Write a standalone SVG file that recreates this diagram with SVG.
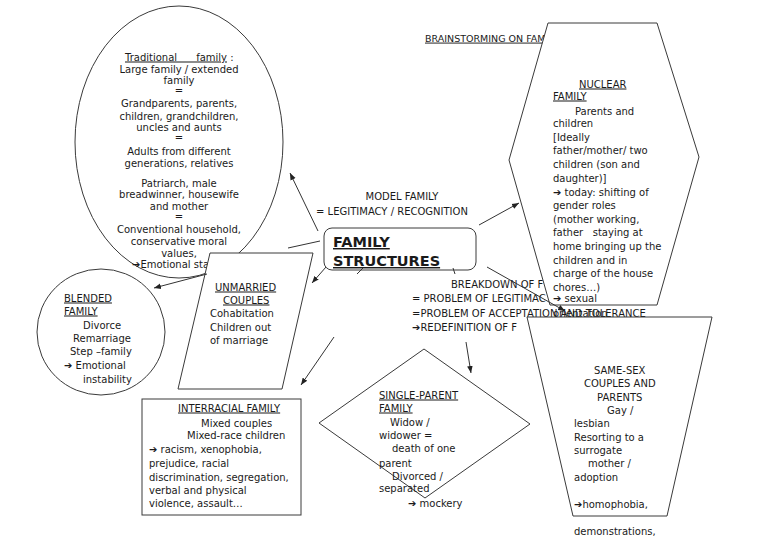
<svg xmlns="http://www.w3.org/2000/svg" width="768" height="543" viewBox="0 0 768 543">
<defs>
<style>
text{font-family:"DejaVu Sans","Verdana",sans-serif;font-size:10px;fill:#1a1a1a}
.m{text-anchor:middle}
.u{text-decoration:underline}
.pre{white-space:pre}
.shape{fill:#fff;stroke:#3a3a3a;stroke-width:1}
.conn line{stroke:#333;stroke-width:1}
.title{font-size:14.5px;font-weight:bold;text-decoration:underline}
</style>
<marker id="ah" viewBox="0 0 10 10" refX="10" refY="5" markerWidth="7" markerHeight="7" orient="auto" markerUnits="userSpaceOnUse">
<path d="M0,1 L10,5 L0,9 z" fill="#222"/>
</marker>
</defs>
<rect width="768" height="543" fill="#fff"/>

<g id="labels">
<text x="425" y="41.6" class="u" style="font-size:9.5px">BRAINSTORMING ON FAM</text>
<text x="402" y="199.6" class="m">MODEL FAMILY</text>
<text x="392" y="214.6" class="m">= LEGITIMACY / RECOGNITION</text>
<text x="451" y="287.6">BREAKDOWN OF F</text>
<text x="412" y="301.6">= PROBLEM OF LEGITIMAC</text>
<text x="412" y="316.6">=PROBLEM OF ACCEPTATION AND TOLERANCE</text>
<text x="412" y="330.6">➔REDEFINITION OF F</text>
</g>

<g id="traditional">
<ellipse class="shape" cx="179" cy="142" rx="104" ry="136"/>
<text x="125" y="60.5" class="u pre">Traditional      family</text>
<text x="227" y="60.5" class="pre"> :</text>
<text x="179" y="72.5" class="m">Large family / extended</text>
<text x="179" y="83.5" class="m">family</text>
<text x="179" y="93.5" class="m">=</text>
<text x="179" y="106.5" class="m">Grandparents, parents,</text>
<text x="179" y="119.5" class="m">children, grandchildren,</text>
<text x="179" y="130.5" class="m">uncles and aunts</text>
<text x="179" y="140.5" class="m">=</text>
<text x="179" y="154.5" class="m">Adults from different</text>
<text x="179" y="166.5" class="m">generations, relatives</text>
<text x="179" y="186.5" class="m">Patriarch, male</text>
<text x="179" y="197.5" class="m">breadwinner, housewife</text>
<text x="179" y="209.5" class="m">and mother</text>
<text x="179" y="219.5" class="m">=</text>
<text x="179" y="232.5" class="m">Conventional household,</text>
<text x="179" y="244.5" class="m">conservative moral</text>
<text x="179" y="256.5" class="m">values,</text>
<text x="132" y="268">➔Emotional sta</text>
</g>

<g id="blended">
<ellipse class="shape" cx="101" cy="332" rx="64" ry="63"/>
<text x="64" y="301.5" class="u">BLENDED</text>
<text x="64" y="314.5" class="u">FAMILY</text>
<text x="83" y="328.5">Divorce</text>
<text x="73" y="341.5">Remarriage</text>
<text x="70" y="355">Step –family</text>
<text x="64" y="368.5">➔ Emotional</text>
<text x="83" y="382.5">instability</text>
</g>

<g id="nuclear">
<polygon class="shape" points="548,23 657,23 699,157 657,305 550,305 509,160"/>
<text x="579" y="87.5" class="u">NUCLEAR</text>
<text x="553" y="99.5" class="u">FAMILY</text>
<text x="575" y="114.5">Parents and</text>
<text x="553" y="126.5">children</text>
<text x="553" y="140.5">[Ideally</text>
<text x="553" y="153.5">father/mother/ two</text>
<text x="553" y="167.5">children (son and</text>
<text x="553" y="181.5">daughter)]</text>
<text x="553" y="195.5">➔ today: shifting of</text>
<text x="553" y="208.5">gender roles</text>
<text x="553" y="222.5">(mother working,</text>
<text x="553" y="235.5" class="pre">father   staying at</text>
<text x="553" y="249.5">home bringing up the</text>
<text x="553" y="263.5">children and in</text>
<text x="553" y="276.5">charge of the house</text>
<text x="553" y="290.5">chores…)</text>
<text x="553" y="301.5">➔ sexual</text>
<text x="553" y="316.5">orientation</text>
</g>

<g id="samesex">
<polygon class="shape" points="527,317 712,317 667,516 573,516"/>
<text x="594" y="373.5">SAME-SEX</text>
<text x="584" y="386.5">COUPLES AND</text>
<text x="597" y="400.5">PARENTS</text>
<text x="607" y="413.5">Gay /</text>
<text x="574" y="426.5">lesbian</text>
<text x="574" y="440.5">Resorting to a</text>
<text x="574" y="453.5">surrogate</text>
<text x="588" y="466.5">mother /</text>
<text x="574" y="480.5">adoption</text>
<text x="574" y="507.5">➔homophobia,</text>
<text x="574" y="534.5">demonstrations,</text>
</g>

<g id="unmarried">
<polygon class="shape" points="210,253 313,253 282,389 178,389"/>
<text x="215" y="290.5" class="u">UNMARRIED</text>
<text x="223" y="303.5" class="u">COUPLES</text>
<text x="210" y="316.5">Cohabitation</text>
<text x="210" y="330.5">Children out</text>
<text x="210" y="343.5">of marriage</text>
</g>

<g id="interracial">
<rect class="shape" x="142" y="399" width="159" height="116"/>
<text x="178" y="411.5" class="u">INTERRACIAL FAMILY</text>
<text x="201" y="426.5">Mixed couples</text>
<text x="187" y="438.5">Mixed-race children</text>
<text x="149" y="452.5">➔ racism, xenophobia,</text>
<text x="149" y="466.5">prejudice, racial</text>
<text x="149" y="480.5">discrimination, segregation,</text>
<text x="149" y="493.5">verbal and physical</text>
<text x="149" y="506.5">violence, assault…</text>
</g>

<g id="singleparent">
<polygon class="shape" points="424,349 530,424 425,498 319,423"/>
<text x="379" y="398.5" class="u">SINGLE-PARENT</text>
<text x="379" y="411.5" class="u">FAMILY</text>
<text x="390" y="425.5">Widow /</text>
<text x="379" y="438.5">widower =</text>
<text x="392" y="451.5">death of one</text>
<text x="379" y="466.5">parent</text>
<text x="392" y="479.5">Divorced /</text>
<text x="379" y="491.5">separated</text>
<text x="408" y="506.5">➔ mockery</text>
</g>

<g id="center">
<rect class="shape" x="324" y="228" width="152" height="42" rx="8"/>
<text x="333" y="247" class="title">FAMILY</text>
<text x="333" y="266" class="title">STRUCTURES</text>
</g>

<g id="connectors" class="conn">
<line x1="318" y1="231" x2="290" y2="173" marker-end="url(#ah)"/>
<line x1="320" y1="241" x2="288" y2="248"/>
<line x1="207" y1="274" x2="154" y2="288" marker-end="url(#ah)"/>
<line x1="326" y1="267" x2="312" y2="283" marker-end="url(#ah)"/>
<line x1="363" y1="268" x2="357" y2="274"/>
<line x1="334" y1="337" x2="301" y2="385" marker-end="url(#ah)"/>
<line x1="479" y1="225" x2="519" y2="203" marker-end="url(#ah)"/>
<line x1="453" y1="268" x2="455" y2="274"/>
<line x1="466" y1="342" x2="471" y2="373" marker-end="url(#ah)"/>
<line x1="487" y1="267" x2="565" y2="311" marker-end="url(#ah)"/>
</g>
</svg>
